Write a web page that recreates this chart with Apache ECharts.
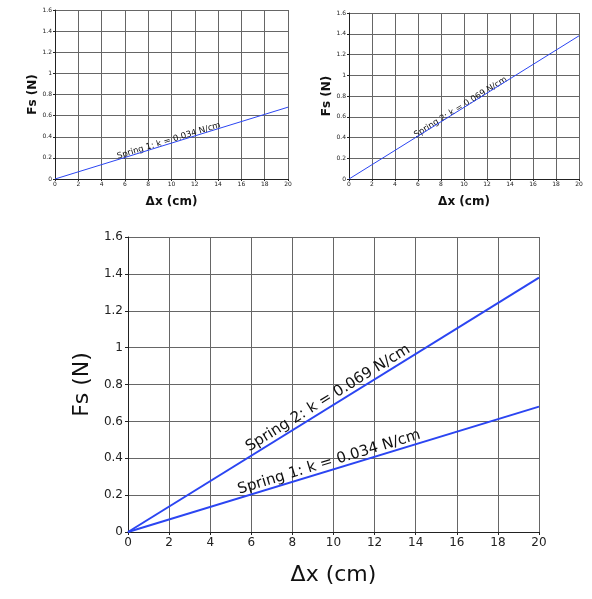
<!DOCTYPE html>
<html>
<head>
<meta charset="utf-8">
<script src="https://cdn.jsdelivr.net/npm/echarts@6/dist/echarts.min.js"></script>
<style>
  html, body { margin: 0; padding: 0; background: #fff; }
  #main { width: 592px; height: 599px; }
</style>
</head>
<body>
<div id="main"></div>
<script>
// data
var dx = [0, 20];
var spring1 = [0, 0.68];
var spring2 = [0, 1.38];
var label1 = 'Spring 1: k = 0.034 N/cm';
var label2 = 'Spring 2: k = 0.069 N/cm';
var xName = 'Δx (cm)';
var yName = 'Fs (N)';

var font = 'DejaVu Sans';
var blue = '#2b45f2';

function pairs(xs, ys) {
  var out = [];
  for (var i = 0; i < xs.length; i++) out.push([xs[i], ys[i]]);
  return out;
}

function xAxisFor(idx, small) {
  return {
    type: 'value', gridIndex: idx, min: 0, max: 20, interval: 2,
    name: xName, nameLocation: 'middle', nameGap: small ? 17 : 32,
    nameTextStyle: { fontFamily: font, fontSize: small ? 12 : 22, color: '#111', fontWeight: small ? 'bold' : 'normal' },
    axisLine: { lineStyle: { color: '#222', width: 1 } },
    axisTick: { show: true, length: small ? 2 : 3, lineStyle: { color: '#222' } },
    axisLabel: { fontFamily: font, fontSize: small ? 6 : 12, color: '#222', margin: small ? 2 : 5 },
    splitLine: { show: true, lineStyle: { color: '#666', width: 1 } }
  };
}

function yAxisFor(idx, small) {
  return {
    type: 'value', gridIndex: idx, min: 0, max: 1.6, interval: 0.2,
    name: yName, nameLocation: 'middle', nameGap: small ? 16 : 31,
    nameTextStyle: { fontFamily: font, fontSize: small ? 12 : 22, color: '#111', fontWeight: small ? 'bold' : 'normal' },
    axisLine: { lineStyle: { color: '#222', width: 1 } },
    axisTick: { show: true, length: small ? 2 : 3, lineStyle: { color: '#222' } },
    axisLabel: { fontFamily: font, fontSize: small ? 6 : 12, color: '#222', margin: small ? 3 : 5 },
    splitLine: { show: true, lineStyle: { color: '#666', width: 1 } }
  };
}

function lineSeries(idx, ys, w) {
  return {
    type: 'line', xAxisIndex: idx, yAxisIndex: idx,
    data: pairs(dx, ys), symbol: 'none', silent: true,
    lineStyle: { color: blue, width: w }
  };
}

var myChart = echarts.init(document.getElementById('main'), null, { renderer: 'canvas' });

var option = {
  backgroundColor: '#fff',
  animation: false,
  grid: [
    { left: 55, top: 10, width: 233, height: 169 },
    { left: 349, top: 13, width: 230, height: 166 },
    { left: 128, top: 237, width: 411, height: 295 }
  ],
  xAxis: [xAxisFor(0, true), xAxisFor(1, true), xAxisFor(2, false)],
  yAxis: [yAxisFor(0, true), yAxisFor(1, true), yAxisFor(2, false)],
  series: [
    lineSeries(0, spring1, 1),
    lineSeries(1, spring2, 1),
    lineSeries(2, spring1, 2),
    lineSeries(2, spring2, 2)
  ]
};

myChart.setOption(option);

// rotated labels along each line, placed with the chart's own scales
function lineLabel(idx, ys, text, atX, size, lift) {
  var k = ys[1] / dx[1];
  var p0 = myChart.convertToPixel({ gridIndex: idx }, [dx[0], ys[0]]);
  var p1 = myChart.convertToPixel({ gridIndex: idx }, [dx[1], ys[1]]);
  var pc = myChart.convertToPixel({ gridIndex: idx }, [atX, k * atX]);
  var a = Math.atan2(-(p1[1] - p0[1]), p1[0] - p0[0]);
  return {
    type: 'text',
    x: pc[0] - Math.sin(a) * lift,
    y: pc[1] - Math.cos(a) * lift,
    rotation: a,
    silent: true,
    style: {
      text: text, fontFamily: font, fontSize: size, fill: '#111',
      align: 'center', verticalAlign: 'middle'
    }
  };
}

myChart.setOption({
  graphic: [
    lineLabel(0, spring1, label1, 9.85, 8.5, 3),
    lineLabel(1, spring2, label2, 9.8, 8.5, 2),
    lineLabel(2, spring1, label1, 9.9, 15, 8),
    lineLabel(2, spring2, label2, 9.95, 15, 8.5)
  ]
});
</script>
</body>
</html>
